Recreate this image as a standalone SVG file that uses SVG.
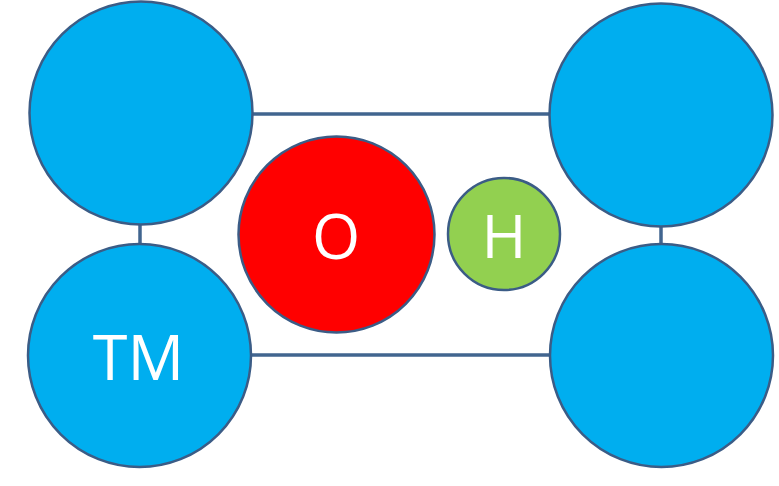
<svg xmlns="http://www.w3.org/2000/svg" width="779" height="486" viewBox="0 0 779 486">
<style>
.c{stroke:#3b5c86;stroke-width:2.5;fill:#00aeef}
.l{stroke:#41658f;stroke-width:3.5;fill:none}
.t{fill:#fff;font-family:"Open Sans","Liberation Sans",sans-serif;text-anchor:middle}
</style>
<rect width="779" height="486" fill="#fff"/>
<g id="connectors">
<line class="l" x1="252" y1="114" x2="551" y2="114"/>
<line class="l" x1="252" y1="355" x2="551" y2="355"/>
<line class="l" x1="140" y1="224" x2="140" y2="245"/>
<line class="l" x1="661" y1="226" x2="661" y2="245"/>
</g>
<g id="n1"><circle class="c" cx="141" cy="113" r="111.5"/></g>
<g id="n2"><circle class="c" cx="661" cy="115" r="111.5"/></g>
<g id="tm"><circle class="c" cx="139.5" cy="355.5" r="111.5"/><text class="t" x="138.5" y="380" font-size="63">TM</text></g>
<g id="n4"><circle class="c" cx="661.5" cy="355.5" r="111.5"/></g>
<g id="o"><circle class="c" cx="336.5" cy="234.5" r="98" style="fill:#ff0000"/><text class="t" x="336" y="259" font-size="62">O</text></g>
<g id="h"><circle class="c" cx="504" cy="234" r="56" style="fill:#92d050"/><text class="t" x="504" y="258" font-size="61">H</text></g>
</svg>
